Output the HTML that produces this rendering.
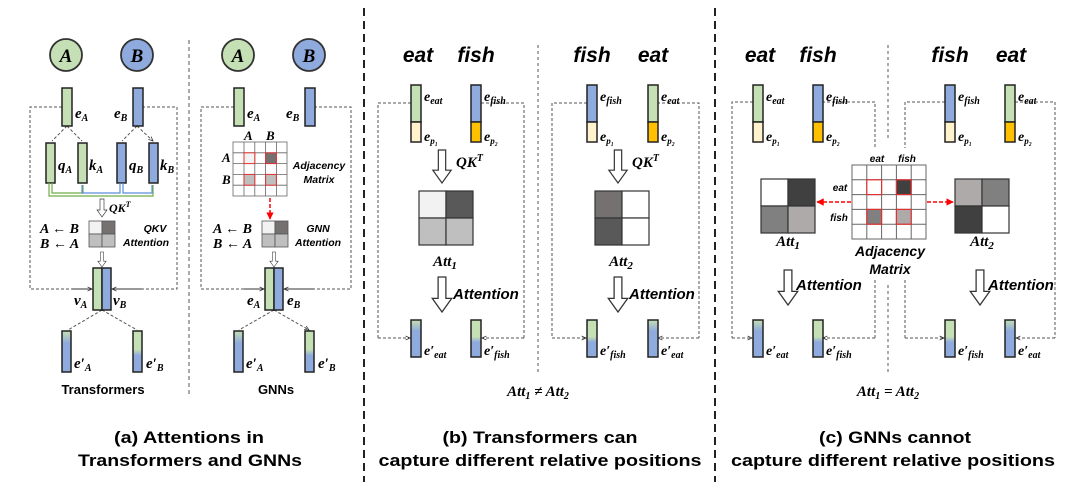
<!DOCTYPE html>
<html><head><meta charset="utf-8"><style>
body{margin:0;background:#fff}
svg{display:block}
.m{font-family:"Liberation Serif",serif;font-style:italic;font-weight:bold}
.s{font-family:"Liberation Sans",sans-serif;font-weight:bold;font-style:italic}
.c{font-family:"Liberation Sans Narrow","Liberation Sans",sans-serif;font-weight:bold}
</style></head><body>
<svg width="1080" height="490" viewBox="0 0 1080 490" xmlns="http://www.w3.org/2000/svg">
<defs>
<linearGradient id="gA" x1="0" y1="0" x2="0" y2="1"><stop offset="0" stop-color="#c5e0b4"/><stop offset="0.3" stop-color="#8faadc"/><stop offset="1" stop-color="#8faadc"/></linearGradient>
<linearGradient id="gB" x1="0" y1="0" x2="0" y2="1"><stop offset="0" stop-color="#c5e0b4"/><stop offset="0.45" stop-color="#c5e0b4"/><stop offset="0.6" stop-color="#8faadc"/><stop offset="1" stop-color="#8faadc"/></linearGradient>
<marker id="ar" viewBox="0 0 10 10" refX="9" refY="5" markerWidth="5" markerHeight="5" orient="auto"><path d="M0,1 L9,5 L0,9" fill="none" stroke="#333" stroke-width="1.5"/></marker>
<marker id="rr" viewBox="0 0 10 10" refX="9" refY="5" markerWidth="5" markerHeight="5" orient="auto"><path d="M0,0 L10,5 L0,10z" fill="#f00"/></marker>
<symbol id="harrow" viewBox="0 0 20 36" overflow="visible"><path d="M6,0 H14 V22 H20 L10,36 L0,22 H6 Z" fill="#fff" stroke="#333" stroke-width="1.3"/></symbol>
</defs>
<g stroke="#333" stroke-width="1.8">
<!-- panel a circles -->
<circle cx="66" cy="55" r="16" fill="#c5e0b4"/><circle cx="137" cy="55" r="16" fill="#8faadc"/>
<circle cx="238" cy="55" r="16" fill="#c5e0b4"/><circle cx="309" cy="55" r="16" fill="#8faadc"/>
</g>
<g class="m" font-size="19" text-anchor="middle"><text x="66" y="62">A</text><text x="137" y="62">B</text><text x="238" y="62">A</text><text x="309" y="62">B</text></g>
<!-- dashed boxes a -->
<g fill="none" stroke="#555" stroke-width="1" stroke-dasharray="3,2">
<path d="M62,107 H30 V289 H90"/><path d="M142,107 H177 V289 H114"/>
<path d="M234,107 H201 V289 H262"/><path d="M314,107 H351 V289 H286"/>
<path d="M67,126 L52,141 M67,126 L82,141 M137,126 L122,141 M137,126 L153,141" marker-end="url(#ar)"/>
<path d="M102,310 L68,330 M102,310 L137,330 M274,310 L239,330 M274,310 L309,330" marker-end="url(#ar)"/>
</g>
<g fill="none" stroke-width="1" stroke="#333" marker-end="url(#ar)"><path d="M72,289 H92"/><path d="M142,289 H112"/><path d="M244,289 H264"/><path d="M314,289 H284"/></g>
<g stroke="#222" stroke-width="1.5">
<rect x="62" y="88" width="10" height="38" fill="#c5e0b4"/><rect x="133" y="88" width="10" height="38" fill="#8faadc"/>
<rect x="234" y="88" width="10" height="38" fill="#c5e0b4"/><rect x="305" y="88" width="10" height="38" fill="#8faadc"/>
<rect x="46" y="143" width="9" height="40" fill="#c5e0b4"/><rect x="78" y="143" width="9" height="40" fill="#c5e0b4"/>
<rect x="117" y="143" width="9" height="40" fill="#8faadc"/><rect x="149" y="143" width="9" height="40" fill="#8faadc"/>
<rect x="93" y="268" width="9" height="42" fill="#c5e0b4"/><rect x="102" y="268" width="9" height="42" fill="#8faadc"/>
<rect x="265" y="268" width="9" height="42" fill="#c5e0b4"/><rect x="274" y="268" width="9" height="42" fill="#8faadc"/>
<rect x="62" y="331" width="9" height="41" fill="url(#gA)"/><rect x="133" y="331" width="9" height="41" fill="url(#gB)"/>
<rect x="234" y="331" width="9" height="41" fill="url(#gA)"/><rect x="305" y="331" width="9" height="41" fill="url(#gB)"/>
</g>
<!-- green/blue lines -->
<g fill="none" stroke-width="1.2">
<path d="M49,183 V196 H153 V185 M52,183 V193 H83 V185" stroke="#70ad47"/>
<path d="M120,183 V193 H82 V185 M123,183 V193 H152 V185" stroke="#5b8ddb"/>
</g>
<use href="#harrow" x="97" y="199" width="10" height="18"/>
<use href="#harrow" x="97" y="252" width="10" height="15"/>
<use href="#harrow" x="269" y="252" width="10" height="15"/>
<g stroke="#555" stroke-width="0.8">
<rect x="89" y="221" width="13" height="13" fill="#f2f2f2"/><rect x="102" y="221" width="13" height="13" fill="#767171"/>
<rect x="89" y="234" width="13" height="13" fill="#bfbfbf"/><rect x="102" y="234" width="13" height="13" fill="#bfbfbf"/>
<rect x="262" y="221" width="13" height="13" fill="#f2f2f2"/><rect x="275" y="221" width="13" height="13" fill="#767171"/>
<rect x="262" y="234" width="13" height="13" fill="#bfbfbf"/><rect x="275" y="234" width="13" height="13" fill="#bfbfbf"/>
</g>
<!-- GNN adjacency small -->
<g stroke="#666" stroke-width="0.8" fill="#fff">
<rect x="233" y="142" width="54" height="54"/>
<path d="M244,142V196M254.8,142V196M265.6,142V196M276.4,142V196M233,152.8H287M233,163.6H287M233,174.4H287M233,185.2H287" fill="none"/>
</g>
<g stroke="#e03030" stroke-width="1"><rect x="244" y="152.8" width="10.8" height="10.8" fill="#f2f2f2"/><rect x="265.6" y="152.8" width="10.8" height="10.8" fill="#767171"/><rect x="244" y="174.4" width="10.8" height="10.8" fill="#bfbfbf"/><rect x="265.6" y="174.4" width="10.8" height="10.8" fill="#bfbfbf"/></g>
<path d="M270,198 V219" stroke="#f00" stroke-width="1.5" stroke-dasharray="4,2" marker-end="url(#rr)"/>
<g class="m" font-size="15">
<text x="75" y="118">e<tspan font-size="10" dy="3">A</tspan></text><text x="114" y="118">e<tspan font-size="10" dy="3">B</tspan></text>
<text x="247" y="118">e<tspan font-size="10" dy="3">A</tspan></text><text x="286" y="118">e<tspan font-size="10" dy="3">B</tspan></text>
<text x="58" y="170">q<tspan font-size="10" dy="3">A</tspan></text><text x="89" y="170">k<tspan font-size="10" dy="3">A</tspan></text>
<text x="129" y="170">q<tspan font-size="10" dy="3">B</tspan></text><text x="160" y="170">k<tspan font-size="10" dy="3">B</tspan></text>
<text x="74" y="305">v<tspan font-size="10" dy="3">A</tspan></text><text x="113" y="305">v<tspan font-size="10" dy="3">B</tspan></text>
<text x="247" y="305">e<tspan font-size="10" dy="3">A</tspan></text><text x="287" y="305">e<tspan font-size="10" dy="3">B</tspan></text>
<text x="74" y="368">e′<tspan font-size="10" dy="3">A</tspan></text><text x="146" y="368">e′<tspan font-size="10" dy="3">B</tspan></text>
<text x="246" y="368">e′<tspan font-size="10" dy="3">A</tspan></text><text x="318" y="368">e′<tspan font-size="10" dy="3">B</tspan></text>
<text x="40" y="233" font-size="14">A ← B</text><text x="40" y="248" font-size="14">B ← A</text>
<text x="213" y="233" font-size="14">A ← B</text><text x="213" y="248" font-size="14">B ← A</text>
<text x="109" y="212" font-size="12">QK<tspan font-size="8" dy="-5">T</tspan></text>
<text x="244" y="140" font-size="13">A</text><text x="266" y="140" font-size="13">B</text>
<text x="222" y="162" font-size="13">A</text><text x="222" y="184" font-size="13">B</text>
</g>
<g class="s" font-size="10.5" text-anchor="middle">
<text x="155" y="232">QKV</text><text x="146" y="246">Attention</text>
<text x="319" y="169">Adjacency</text><text x="319" y="183">Matrix</text>
<text x="318" y="232">GNN</text><text x="318" y="246">Attention</text>
</g>
<g font-family="Liberation Sans,sans-serif" font-weight="bold" font-size="13" text-anchor="middle"><text x="103" y="394">Transformers</text><text x="276" y="394">GNNs</text></g>
<!-- dividers -->
<path d="M189,40 V395" stroke="#555" stroke-dasharray="4,3" stroke-width="1"/>
<path d="M364,8 V482 M715,8 V482" stroke="#222" stroke-dasharray="8,5" stroke-width="2"/>
<path d="M538,45 V372" stroke="#555" stroke-dasharray="3,3" stroke-width="1"/>
<path d="M888,45 V140 M888,285 V375" stroke="#555" stroke-dasharray="3,3" stroke-width="1"/>
<!-- panel b & c words -->
<g class="s" font-size="21" text-anchor="middle">
<text x="418" y="62">eat</text><text x="476" y="62">fish</text><text x="592" y="62">fish</text><text x="653" y="62">eat</text>
<text x="760" y="62">eat</text><text x="818" y="62">fish</text><text x="950" y="62">fish</text><text x="1011" y="62">eat</text>
</g>
<!-- dashed boxes b,c -->
<g fill="none" stroke="#555" stroke-width="1" stroke-dasharray="3,2">
<path d="M411,103 H378 V338"/><path d="M481,103 H524 V338"/>
<path d="M587,103 H552 V338"/><path d="M657,103 H699 V338"/>
<path d="M753,102 H732 V338"/><path d="M822,102 H875 V148 M875,280 V338"/>
<path d="M945,102 H905 V148 M905,280 V338"/><path d="M1015,102 H1055 V338"/>
</g>
<g fill="none" stroke-width="1" stroke="#555" stroke-dasharray="3,2" marker-end="url(#ar)">
<path d="M378,338 H410"/><path d="M524,338 H482"/><path d="M552,338 H586"/><path d="M699,338 H658"/>
<path d="M732,338 H752"/><path d="M875,338 H823"/><path d="M905,338 H944"/><path d="M1055,338 H1016"/>
</g>
<!-- input bars -->
<g stroke="#222" stroke-width="1.5">
<rect x="411" y="85" width="10" height="37" fill="#c5e0b4"/><rect x="411" y="122" width="10" height="20" fill="#fff2cc"/>
<rect x="471" y="85" width="10" height="37" fill="#8faadc"/><rect x="471" y="122" width="10" height="20" fill="#ffc000"/>
<rect x="587" y="85" width="10" height="37" fill="#8faadc"/><rect x="587" y="122" width="10" height="20" fill="#fff2cc"/>
<rect x="648" y="85" width="10" height="37" fill="#c5e0b4"/><rect x="648" y="122" width="10" height="20" fill="#ffc000"/>
<rect x="753" y="85" width="10" height="37" fill="#c5e0b4"/><rect x="753" y="122" width="10" height="20" fill="#fff2cc"/>
<rect x="813" y="85" width="10" height="37" fill="#8faadc"/><rect x="813" y="122" width="10" height="20" fill="#ffc000"/>
<rect x="945" y="85" width="10" height="37" fill="#8faadc"/><rect x="945" y="122" width="10" height="20" fill="#fff2cc"/>
<rect x="1005" y="85" width="10" height="37" fill="#c5e0b4"/><rect x="1005" y="122" width="10" height="20" fill="#ffc000"/>
<rect x="411" y="320" width="10" height="37" fill="url(#gA)"/><rect x="471" y="320" width="10" height="37" fill="url(#gB)"/>
<rect x="587" y="320" width="10" height="37" fill="url(#gB)"/><rect x="648" y="320" width="10" height="37" fill="url(#gA)"/>
<rect x="753" y="320" width="10" height="37" fill="url(#gA)"/><rect x="813" y="320" width="10" height="37" fill="url(#gB)"/>
<rect x="945" y="320" width="10" height="37" fill="url(#gB)"/><rect x="1005" y="320" width="10" height="37" fill="url(#gA)"/>
</g>
<g class="m" font-size="14">
<text x="424" y="101">e<tspan font-size="10" dy="3">eat</tspan></text><text x="484" y="101">e<tspan font-size="10" dy="3">fish</tspan></text>
<text x="600" y="101">e<tspan font-size="10" dy="3">fish</tspan></text><text x="661" y="101">e<tspan font-size="10" dy="3">eat</tspan></text>
<text x="766" y="101">e<tspan font-size="10" dy="3">eat</tspan></text><text x="826" y="101">e<tspan font-size="10" dy="3">fish</tspan></text>
<text x="958" y="101">e<tspan font-size="10" dy="3">fish</tspan></text><text x="1018" y="101">e<tspan font-size="10" dy="3">eat</tspan></text>
<text x="424" y="141">e<tspan font-size="9" dy="3">p₁</tspan></text><text x="484" y="141">e<tspan font-size="9" dy="3">p₂</tspan></text>
<text x="600" y="141">e<tspan font-size="9" dy="3">p₁</tspan></text><text x="661" y="141">e<tspan font-size="9" dy="3">p₂</tspan></text>
<text x="766" y="141">e<tspan font-size="9" dy="3">p₁</tspan></text><text x="826" y="141">e<tspan font-size="9" dy="3">p₂</tspan></text>
<text x="958" y="141">e<tspan font-size="9" dy="3">p₁</tspan></text><text x="1018" y="141">e<tspan font-size="9" dy="3">p₂</tspan></text>
<text x="424" y="355">e′<tspan font-size="10" dy="3">eat</tspan></text><text x="484" y="355">e′<tspan font-size="10" dy="3">fish</tspan></text>
<text x="600" y="355">e′<tspan font-size="10" dy="3">fish</tspan></text><text x="661" y="355">e′<tspan font-size="10" dy="3">eat</tspan></text>
<text x="766" y="355">e′<tspan font-size="10" dy="3">eat</tspan></text><text x="826" y="355">e′<tspan font-size="10" dy="3">fish</tspan></text>
<text x="958" y="355">e′<tspan font-size="10" dy="3">fish</tspan></text><text x="1018" y="355">e′<tspan font-size="10" dy="3">eat</tspan></text>
<text x="456" y="167" font-size="15">QK<tspan font-size="10" dy="-6">T</tspan></text><text x="632" y="167" font-size="15">QK<tspan font-size="10" dy="-6">T</tspan></text>
</g>
<g class="m" font-size="15" text-anchor="middle">
<text x="445" y="266">Att<tspan font-size="11" dy="3">1</tspan></text><text x="621" y="266">Att<tspan font-size="11" dy="3">2</tspan></text>
<text x="788" y="246">Att<tspan font-size="11" dy="3">1</tspan></text><text x="982" y="246">Att<tspan font-size="11" dy="3">2</tspan></text>
<text x="538" y="396">Att<tspan font-size="10" dy="3">1</tspan><tspan dy="-3"> ≠ Att</tspan><tspan font-size="10" dy="3">2</tspan></text>
<text x="888" y="396">Att<tspan font-size="10" dy="3">1</tspan><tspan dy="-3"> = Att</tspan><tspan font-size="10" dy="3">2</tspan></text>
</g>
<!-- hollow arrows -->
<use href="#harrow" x="432" y="150" width="20" height="33"/><use href="#harrow" x="608" y="150" width="20" height="33"/>
<use href="#harrow" x="432" y="277" width="20" height="35"/><use href="#harrow" x="608" y="277" width="20" height="35"/>
<use href="#harrow" x="778" y="270" width="20" height="35"/><use href="#harrow" x="970" y="270" width="20" height="35"/>
<g class="s" font-size="15"><text x="453" y="299">Attention</text><text x="629" y="299">Attention</text><text x="796" y="290">Attention</text><text x="988" y="290">Attention</text></g>
<!-- att matrices -->
<g stroke="#333" stroke-width="1.2">
<rect x="419" y="191" width="27" height="27" fill="#f2f2f2"/><rect x="446" y="191" width="27" height="27" fill="#595959"/>
<rect x="419" y="218" width="27" height="27" fill="#bfbfbf"/><rect x="446" y="218" width="27" height="27" fill="#bfbfbf"/>
<rect x="595" y="191" width="27" height="27" fill="#767171"/><rect x="622" y="191" width="27" height="27" fill="#fff"/>
<rect x="595" y="218" width="27" height="27" fill="#595959"/><rect x="622" y="218" width="27" height="27" fill="#fff"/>
<rect x="761" y="179" width="27" height="27" fill="#fff"/><rect x="788" y="179" width="27" height="27" fill="#404040"/>
<rect x="761" y="206" width="27" height="27" fill="#808080"/><rect x="788" y="206" width="27" height="27" fill="#aeaaaa"/>
<rect x="955" y="179" width="27" height="27" fill="#aeaaaa"/><rect x="982" y="179" width="27" height="27" fill="#808080"/>
<rect x="955" y="206" width="27" height="27" fill="#404040"/><rect x="982" y="206" width="27" height="27" fill="#fff"/>
</g>
<!-- big adjacency -->
<g stroke="#666" stroke-width="1" fill="#fff">
<rect x="852" y="165" width="74" height="74"/>
<path d="M866.8,165V239M881.6,165V239M896.4,165V239M911.2,165V239M852,179.8H926M852,194.6H926M852,209.4H926M852,224.2H926" fill="none"/>
</g>
<g stroke="#e03030" stroke-width="1.2"><rect x="866.8" y="179.8" width="14.8" height="14.8" fill="#fff"/><rect x="896.4" y="179.8" width="14.8" height="14.8" fill="#404040"/><rect x="866.8" y="209.4" width="14.8" height="14.8" fill="#808080"/><rect x="896.4" y="209.4" width="14.8" height="14.8" fill="#aeaaaa"/></g>
<g stroke="#f00" stroke-width="1.5" stroke-dasharray="4,2" marker-end="url(#rr)"><path d="M851,202 H817"/><path d="M927,202 H953"/></g>
<g class="s" font-size="10" text-anchor="middle"><text x="877" y="162">eat</text><text x="907" y="162">fish</text><text x="840" y="191">eat</text><text x="839" y="221">fish</text></g>
<g class="s" font-size="14" text-anchor="middle"><text x="890" y="256">Adjacency</text><text x="890" y="274">Matrix</text></g>
<!-- captions -->
<g class="c" font-size="17" text-anchor="middle">
<text x="189" y="443" textLength="150" lengthAdjust="spacingAndGlyphs">(a) Attentions in</text>
<text x="190" y="466" textLength="224" lengthAdjust="spacingAndGlyphs">Transformers and GNNs</text>
<text x="540" y="443" textLength="195" lengthAdjust="spacingAndGlyphs">(b) Transformers can</text>
<text x="540" y="466" textLength="323" lengthAdjust="spacingAndGlyphs">capture different relative positions</text>
<text x="895" y="443" textLength="152" lengthAdjust="spacingAndGlyphs">(c) GNNs cannot</text>
<text x="893" y="466" textLength="324" lengthAdjust="spacingAndGlyphs">capture different relative positions</text>
</g>
</svg>
</body></html>
